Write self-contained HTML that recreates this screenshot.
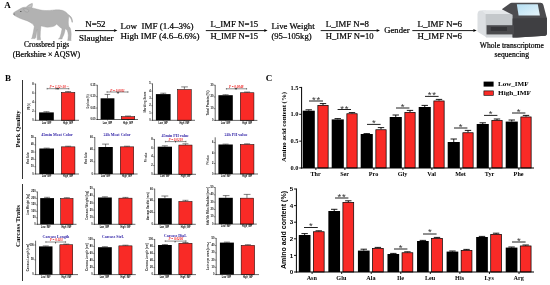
<!DOCTYPE html>
<html><head><meta charset="utf-8"><title>Figure</title>
<style>
html,body{margin:0;padding:0;background:#fff;}
svg{display:block;}
.l{stroke:#000;fill:none}
text{white-space:pre;text-anchor:middle;fill:#000}
.s{font-family:"Liberation Serif",serif;stroke:#000;stroke-width:0.22px}
.sb{font-family:"Liberation Serif",serif;font-weight:bold}
.a{font-family:"Liberation Sans",sans-serif}
.ab{font-family:"Liberation Sans",sans-serif;font-weight:bold}
.i{font-style:italic}
.c{dominant-baseline:central}
</style></head>
<body>
<svg width="550" height="285" viewBox="0 0 550 285">
<rect width="550" height="285" fill="#fff"/>
<text class="sb c" x="7.60" y="5.20" font-size="9">A</text>
<g id="pig">
<path fill="#b2b2b2" stroke="#a0a0a0" stroke-width="0.4" d="M13.4 13 L14.2 12.2 C17 10.6 20 8.8 22.5 7.6 C23.8 7.2 25 7.1 26 7.2 C27.8 5.6 30 4 32.3 3.3 C32.7 4.8 32.4 6.4 31.7 7.7 C34 8.3 35.4 8.7 36.5 9 C38.5 9.5 40.5 10 42.1 10.3 C45 10.6 47.5 10.6 49.8 10.4 C52 10.2 53.5 10 54.7 9.9 C57 9.8 60 9.9 62.1 10.3 C64.8 11 66.8 12.6 68.2 14.6 C70 15.6 71.4 17 71.9 18.6 C72.5 20 72.7 21.2 72.5 22.2 L71.9 22.2 C71.8 20.6 71.3 19.2 70.5 18 C70 17.2 69.4 16.6 68.8 16.3 C68.6 18 68.3 20 68.3 22.1 C68.3 23.8 68.5 25.2 68.8 26.5 C69.4 27 69.9 27.4 70.2 28 C70.8 30 71.2 32 71.2 33.9 L70.9 39.8 L71.2 40.5 L67.7 40.5 L68 38.5 L68.3 35.3 C68.2 33.5 67.8 31.8 67.2 30.2 L65.3 28.5 C65 31 64.4 33.4 63.6 35.3 L62.2 38 L62.1 39 L58.4 39 L59.9 37.6 C60.8 34.8 61.6 31.6 62.1 28.7 C60.4 27.4 58 25.8 56.6 24 C55.8 25 55.2 25.5 54.7 25.8 C52.5 26.8 50 27.2 47.4 27.2 C45 27 42.5 26.4 40.9 25.8 L40.9 26.5 C40.4 30 40.2 33.5 40.2 36.8 L40.6 39.8 L37.2 39.8 L37.2 39 C37.3 36.6 37.3 34 37.2 31.7 L37.2 29.5 C36.6 32.4 36.2 35 35.8 37.6 L35 38.6 L31.4 38.6 L32.1 37.6 C33 34 33.8 30 34.3 26.5 C33.8 25.4 33 24.4 32.1 23.6 C30.5 22.4 29 21.6 27.4 20.9 C25 20.1 22.6 19.3 20.4 18.5 C18.6 17.7 17 16.9 15.5 16.1 C14.4 15.6 13.6 15 13.3 14.2 Z"/>
<path fill="#b8b8b8" stroke="#8c8c8c" stroke-width="0.4" d="M23.6 8.7 C25.4 8.3 27.8 9 28.8 10.4 C28.8 11.4 28.2 12.2 27.1 12.2 C25.8 11.9 24.8 11.4 24.3 10.8 C23.9 10.1 23.7 9.4 23.6 8.7 Z"/>
<path fill="#c4c4c4" d="M27.6 6.8 C28.8 5.8 30.4 4.8 31.8 4.2 C31.9 5.2 31.6 6.4 31.1 7.3 Z"/>
<ellipse cx="20.8" cy="11.5" rx="0.8" ry="0.55" fill="#4a4a4a"/>
<ellipse cx="14.3" cy="14.2" rx="0.7" ry="0.9" fill="#8e8e8e"/>
</g>
<text class="s c" x="46.60" y="44.60" font-size="7.7" textLength="45" lengthAdjust="spacingAndGlyphs">Crossbred pigs</text>
<text class="s c" x="46.40" y="54.00" font-size="7.7" textLength="67.4" lengthAdjust="spacingAndGlyphs">(Berkshire × AQSW)</text>
<path class="l" d="M75.00 30.60L114.90 30.60" stroke-width="0.9"/>
<path d="M117.4 30.6 L113.80000000000001 29.1 L114.60000000000001 30.6 L113.80000000000001 32.1 Z" fill="#000"/>
<text class="s c" x="95.40" y="24.30" font-size="9" textLength="20.4" lengthAdjust="spacingAndGlyphs">N=52</text>
<text class="s c" x="96.30" y="38.30" font-size="9" textLength="34.5" lengthAdjust="spacingAndGlyphs">Slaughter</text>
<text class="s c" x="120.60" y="25.60" font-size="9" style="text-anchor:start" textLength="73" lengthAdjust="spacingAndGlyphs">Low  IMF (1.4–3%)</text>
<text class="s c" x="120.60" y="36.20" font-size="9" style="text-anchor:start" textLength="79" lengthAdjust="spacingAndGlyphs">High IMF (4.6–6.6%)</text>
<path class="l" d="M205.80 30.60L265.10 30.60" stroke-width="0.9"/>
<path d="M267.6 30.6 L264.0 29.1 L264.8 30.6 L264.0 32.1 Z" fill="#000"/>
<text class="s c" x="210.40" y="24.40" font-size="9" style="text-anchor:start" textLength="47.8" lengthAdjust="spacingAndGlyphs">L_IMF N=15</text>
<text class="s c" x="210.40" y="36.30" font-size="9" style="text-anchor:start" textLength="47.8" lengthAdjust="spacingAndGlyphs">H_IMF N=15</text>
<text class="s c" x="271.40" y="25.60" font-size="9" style="text-anchor:start" textLength="43.3" lengthAdjust="spacingAndGlyphs">Live Weight</text>
<text class="s c" x="271.40" y="36.20" font-size="9" style="text-anchor:start" textLength="40.2" lengthAdjust="spacingAndGlyphs">(95–105kg)</text>
<path class="l" d="M320.70 30.60L377.50 30.60" stroke-width="0.9"/>
<path d="M380 30.6 L376.4 29.1 L377.2 30.6 L376.4 32.1 Z" fill="#000"/>
<text class="s c" x="325.80" y="24.40" font-size="9" style="text-anchor:start" textLength="43.2" lengthAdjust="spacingAndGlyphs">L_IMF N=8</text>
<text class="s c" x="325.80" y="36.30" font-size="9" style="text-anchor:start" textLength="47.8" lengthAdjust="spacingAndGlyphs">H_IMF N=10</text>
<text class="s c" x="384.30" y="30.40" font-size="9" style="text-anchor:start" textLength="25.4" lengthAdjust="spacingAndGlyphs">Gender</text>
<path class="l" d="M412.30 30.60L474.20 30.60" stroke-width="0.9"/>
<path d="M476.7 30.6 L473.09999999999997 29.1 L473.9 30.6 L473.09999999999997 32.1 Z" fill="#000"/>
<text class="s c" x="417.60" y="24.40" font-size="9" style="text-anchor:start" textLength="44.4" lengthAdjust="spacingAndGlyphs">L_IMF N=6</text>
<text class="s c" x="417.60" y="36.30" font-size="9" style="text-anchor:start" textLength="44.4" lengthAdjust="spacingAndGlyphs">H_IMF N=6</text>
<g id="seq">
<defs><linearGradient id="scr" x1="0" y1="0" x2="1" y2="1"><stop offset="0" stop-color="#b4def2"/><stop offset="1" stop-color="#e6f4fa"/></linearGradient></defs>
<path d="M477.5 14.2 Q477.6 10.6 480.6 10.4 L486 10.4 L486 36.9 L477.5 31.8 Z" fill="#dcdfe2"/>
<path d="M480 10.2 L504.4 10.2 L513 14.2 L485.6 14.2 L482 10.4 Z" fill="#e5e8ea"/>
<path d="M485.6 14 L513.5 14 L513.5 37.3 L485.9 37.3 Z" fill="#c4c8cb"/>
<path d="M485.9 34.4 L513.5 34.4 L513.5 37.3 L485.9 37.3 Z" fill="#d3d6d9"/>
<path d="M501.8 9.3 L509.8 3.4 Q510.6 2.8 511.8 2.8 L540.6 2.8 Q542.8 2.8 543.4 5 L546.6 17.2 Q546.9 18.4 546.9 19.8 L546.9 33.6 Q546.9 35.5 545.2 35.8 L517 37.6 L512.6 37.6 L512.6 14.8 Z" fill="#4c4c4f"/>
<path d="M512.6 18.4 L546.9 17.8 L546.9 33.6 Q546.9 35.5 545.2 35.8 L517 37.6 L512.6 37.6 Z" fill="#3f3f42"/>
<path d="M516.8 4.2 L537.8 4.2 L539.9 15.4 L518.6 15.4 Z" fill="url(#scr)"/>
<path d="M486.6 25.2 L514 25.2 L514 34.4 L486.6 34.4 Z" fill="#4a4a4d"/>
<path d="M490.8 27 L507 27 L507 30.9 L490.8 30.9 Z" fill="#353538"/>
</g>
<text class="s c" x="511.80" y="45.80" font-size="7.7" textLength="64" lengthAdjust="spacingAndGlyphs">Whole transcriptome</text>
<text class="s c" x="511.80" y="54.20" font-size="7.7" textLength="34.5" lengthAdjust="spacingAndGlyphs">sequencing</text>
<text class="sb c" x="8.00" y="78.40" font-size="9">B</text>
<path class="l" d="M22.50 80.00L22.50 179.00" stroke-width="0.8"/>
<path class="l" d="M22.50 184.00L22.50 281.00" stroke-width="0.8"/>
<text class="sb c" x="17.60" y="129.00" font-size="6.7" textLength="37" lengthAdjust="spacingAndGlyphs" transform="rotate(-90 17.6 129)">Pork Quality</text>
<text class="sb c" x="17.60" y="226.00" font-size="6.7" textLength="42" lengthAdjust="spacingAndGlyphs" transform="rotate(-90 17.6 226)">Carcass Traits</text>
<path class="l" d="M46.45 112.40L46.45 111.70" stroke-width="0.5"/>
<path class="l" d="M43.45 111.70L49.45 111.70" stroke-width="0.5"/>
<rect x="39.10" y="112.40" width="14.70" height="7.90" fill="#000"/>
<path class="l" d="M68.10 92.20L68.10 91.50" stroke-width="0.5"/>
<path class="l" d="M65.10 91.50L71.10 91.50" stroke-width="0.5"/>
<rect x="61.35" y="92.45" width="13.50" height="27.85" fill="#f92a26" stroke="#000" stroke-width="0.5"/>
<path class="l" d="M35.60 83.70L35.60 120.60" stroke-width="0.6"/>
<path class="l" d="M35.30 120.30L79.00 120.30" stroke-width="0.6"/>
<path class="l" d="M34.30 84.00L35.60 84.00" stroke-width="0.45"/>
<text class="ab c" x="33.80" y="84.00" font-size="2.6" style="text-anchor:end">8</text>
<path class="l" d="M34.30 93.08L35.60 93.08" stroke-width="0.45"/>
<text class="ab c" x="33.80" y="93.08" font-size="2.6" style="text-anchor:end">6</text>
<path class="l" d="M34.30 102.15L35.60 102.15" stroke-width="0.45"/>
<text class="ab c" x="33.80" y="102.15" font-size="2.6" style="text-anchor:end">4</text>
<path class="l" d="M34.30 111.22L35.60 111.22" stroke-width="0.45"/>
<text class="ab c" x="33.80" y="111.22" font-size="2.6" style="text-anchor:end">2</text>
<path class="l" d="M34.30 120.30L35.60 120.30" stroke-width="0.45"/>
<text class="ab c" x="33.80" y="120.30" font-size="2.6" style="text-anchor:end">0</text>
<path class="l" d="M46.45 120.30L46.45 121.30" stroke-width="0.45"/>
<path class="l" d="M68.10 120.30L68.10 121.30" stroke-width="0.45"/>
<text class="ab c" x="46.60" y="123.60" font-size="2.6" textLength="9.4" lengthAdjust="spacingAndGlyphs">Low_IMF</text>
<text class="ab c" x="68.00" y="123.60" font-size="2.6" textLength="10" lengthAdjust="spacingAndGlyphs">High_IMF</text>
<text class="ab c" x="29.20" y="106.60" font-size="2.6" style="fill:#2a2a2a" textLength="6.5" lengthAdjust="spacingAndGlyphs" transform="rotate(-90 29.2 106.6)">IMF (%)</text>
<text class="sb i c" x="59.00" y="86.70" font-size="3.3" style="fill:#ee2222">P = 1.12×10<tspan font-size='2' dy='-1'>-12</tspan></text>
<path class="l" d="M47.10 88.70L68.90 88.70" stroke-width="0.45"/>
<path class="l" d="M47.10 87.90L47.10 89.50" stroke-width="0.45"/>
<path class="l" d="M68.90 87.90L68.90 89.50" stroke-width="0.45"/>
<text class="ab c" x="57.30" y="90.10" font-size="3.0">***</text>
<path class="l" d="M107.50 98.30L107.50 94.40" stroke-width="0.5"/>
<path class="l" d="M104.60 94.40L110.20 94.40" stroke-width="0.5"/>
<rect x="100.60" y="98.30" width="13.80" height="21.20" fill="#000"/>
<path class="l" d="M128.00 116.40L128.00 116.00" stroke-width="0.5"/>
<path class="l" d="M125.00 116.00L131.00 116.00" stroke-width="0.5"/>
<rect x="121.25" y="116.65" width="13.50" height="2.85" fill="#f92a26" stroke="#000" stroke-width="0.5"/>
<path class="l" d="M97.30 84.90L97.30 119.80" stroke-width="0.6"/>
<path class="l" d="M97.00 119.50L138.00 119.50" stroke-width="0.6"/>
<path class="l" d="M96.00 85.20L97.30 85.20" stroke-width="0.45"/>
<text class="ab c" x="95.50" y="85.20" font-size="2.6" style="text-anchor:end">0.15</text>
<path class="l" d="M96.00 96.63L97.30 96.63" stroke-width="0.45"/>
<text class="ab c" x="95.50" y="96.63" font-size="2.6" style="text-anchor:end">0.10</text>
<path class="l" d="M96.00 108.07L97.30 108.07" stroke-width="0.45"/>
<text class="ab c" x="95.50" y="108.07" font-size="2.6" style="text-anchor:end">0.05</text>
<path class="l" d="M96.00 119.50L97.30 119.50" stroke-width="0.45"/>
<text class="ab c" x="95.50" y="119.50" font-size="2.6" style="text-anchor:end">0.00</text>
<path class="l" d="M107.50 119.50L107.50 120.50" stroke-width="0.45"/>
<path class="l" d="M128.00 119.50L128.00 120.50" stroke-width="0.45"/>
<text class="ab c" x="107.40" y="123.00" font-size="2.6" textLength="9.4" lengthAdjust="spacingAndGlyphs">Low_IMF</text>
<text class="ab c" x="128.00" y="123.00" font-size="2.6" textLength="10" lengthAdjust="spacingAndGlyphs">High_IMF</text>
<text class="ab c" x="88.60" y="101.60" font-size="2.6" style="fill:#2a2a2a" textLength="14" lengthAdjust="spacingAndGlyphs" transform="rotate(-90 88.6 101.6)">Drip loss (%)</text>
<text class="sb i c" x="117.50" y="90.50" font-size="3.3" style="fill:#ee2222">P = 0.0011</text>
<path class="l" d="M107.00 92.00L128.00 92.00" stroke-width="0.45"/>
<path class="l" d="M107.00 91.20L107.00 92.80" stroke-width="0.45"/>
<path class="l" d="M128.00 91.20L128.00 92.80" stroke-width="0.45"/>
<text class="ab c" x="118.00" y="93.90" font-size="3.0">**</text>
<path class="l" d="M163.25 94.10L163.25 93.20" stroke-width="0.5"/>
<path class="l" d="M160.25 93.20L166.25 93.20" stroke-width="0.5"/>
<rect x="155.90" y="94.10" width="14.70" height="26.20" fill="#000"/>
<path class="l" d="M184.40 89.30L184.40 86.90" stroke-width="0.5"/>
<path class="l" d="M181.20 86.90L187.90 86.90" stroke-width="0.5"/>
<rect x="177.55" y="89.55" width="13.70" height="30.75" fill="#f92a26" stroke="#000" stroke-width="0.5"/>
<path class="l" d="M152.50 83.50L152.50 120.60" stroke-width="0.6"/>
<path class="l" d="M152.20 120.30L195.00 120.30" stroke-width="0.6"/>
<path class="l" d="M151.20 83.80L152.50 83.80" stroke-width="0.45"/>
<text class="ab c" x="150.70" y="83.80" font-size="2.6" style="text-anchor:end">5</text>
<path class="l" d="M151.20 91.10L152.50 91.10" stroke-width="0.45"/>
<text class="ab c" x="150.70" y="91.10" font-size="2.6" style="text-anchor:end">4</text>
<path class="l" d="M151.20 98.40L152.50 98.40" stroke-width="0.45"/>
<text class="ab c" x="150.70" y="98.40" font-size="2.6" style="text-anchor:end">3</text>
<path class="l" d="M151.20 105.70L152.50 105.70" stroke-width="0.45"/>
<text class="ab c" x="150.70" y="105.70" font-size="2.6" style="text-anchor:end">2</text>
<path class="l" d="M151.20 113.00L152.50 113.00" stroke-width="0.45"/>
<text class="ab c" x="150.70" y="113.00" font-size="2.6" style="text-anchor:end">1</text>
<path class="l" d="M151.20 120.30L152.50 120.30" stroke-width="0.45"/>
<text class="ab c" x="150.70" y="120.30" font-size="2.6" style="text-anchor:end">0</text>
<path class="l" d="M163.25 120.30L163.25 121.30" stroke-width="0.45"/>
<path class="l" d="M184.40 120.30L184.40 121.30" stroke-width="0.45"/>
<text class="ab c" x="163.20" y="123.60" font-size="2.6" textLength="9.4" lengthAdjust="spacingAndGlyphs">Low_IMF</text>
<text class="ab c" x="184.40" y="123.60" font-size="2.6" textLength="10" lengthAdjust="spacingAndGlyphs">High_IMF</text>
<text class="ab c" x="145.90" y="102.00" font-size="2.6" style="fill:#2a2a2a" textLength="21" lengthAdjust="spacingAndGlyphs" transform="rotate(-90 145.9 102)">Marbling Score</text>
<path class="l" d="M225.60 95.20L225.60 94.70" stroke-width="0.5"/>
<path class="l" d="M222.60 94.70L228.60 94.70" stroke-width="0.5"/>
<rect x="218.40" y="95.20" width="14.40" height="25.20" fill="#000"/>
<path class="l" d="M247.10 92.50L247.10 92.00" stroke-width="0.5"/>
<path class="l" d="M244.10 92.00L250.10 92.00" stroke-width="0.5"/>
<rect x="240.25" y="92.75" width="13.70" height="27.65" fill="#f92a26" stroke="#000" stroke-width="0.5"/>
<path class="l" d="M215.20 84.90L215.20 120.70" stroke-width="0.6"/>
<path class="l" d="M214.90 120.40L257.40 120.40" stroke-width="0.6"/>
<path class="l" d="M213.90 85.20L215.20 85.20" stroke-width="0.45"/>
<text class="ab c" x="213.40" y="85.20" font-size="2.6" style="text-anchor:end">30</text>
<path class="l" d="M213.90 96.93L215.20 96.93" stroke-width="0.45"/>
<text class="ab c" x="213.40" y="96.93" font-size="2.6" style="text-anchor:end">20</text>
<path class="l" d="M213.90 108.67L215.20 108.67" stroke-width="0.45"/>
<text class="ab c" x="213.40" y="108.67" font-size="2.6" style="text-anchor:end">10</text>
<path class="l" d="M213.90 120.40L215.20 120.40" stroke-width="0.45"/>
<text class="ab c" x="213.40" y="120.40" font-size="2.6" style="text-anchor:end">0</text>
<path class="l" d="M225.60 120.40L225.60 121.40" stroke-width="0.45"/>
<path class="l" d="M247.10 120.40L247.10 121.40" stroke-width="0.45"/>
<text class="ab c" x="225.60" y="123.70" font-size="2.6" textLength="9.4" lengthAdjust="spacingAndGlyphs">Low_IMF</text>
<text class="ab c" x="247.20" y="123.70" font-size="2.6" textLength="10" lengthAdjust="spacingAndGlyphs">High_IMF</text>
<text class="ab c" x="208.10" y="103.00" font-size="2.6" style="fill:#2a2a2a" textLength="25" lengthAdjust="spacingAndGlyphs" transform="rotate(-90 208.1 103)">Total Protein (%)</text>
<text class="sb i c" x="236.20" y="86.80" font-size="3.3" style="fill:#ee2222">P = 0.0048</text>
<path class="l" d="M226.40 88.80L246.60 88.80" stroke-width="0.45"/>
<path class="l" d="M226.40 88.00L226.40 89.60" stroke-width="0.45"/>
<path class="l" d="M246.60 88.00L246.60 89.60" stroke-width="0.45"/>
<text class="ab c" x="236.00" y="90.40" font-size="3.0">**</text>
<path class="l" d="M46.65 148.50L46.65 148.10" stroke-width="0.5"/>
<path class="l" d="M43.65 148.10L49.65 148.10" stroke-width="0.5"/>
<rect x="39.30" y="148.50" width="14.70" height="25.50" fill="#000"/>
<path class="l" d="M68.15 146.60L68.15 146.20" stroke-width="0.5"/>
<path class="l" d="M65.15 146.20L71.15 146.20" stroke-width="0.5"/>
<rect x="61.35" y="146.85" width="13.60" height="27.15" fill="#f92a26" stroke="#000" stroke-width="0.5"/>
<path class="l" d="M35.60 137.20L35.60 174.30" stroke-width="0.6"/>
<path class="l" d="M35.30 174.00L79.00 174.00" stroke-width="0.6"/>
<path class="l" d="M34.30 137.50L35.60 137.50" stroke-width="0.45"/>
<text class="ab c" x="33.80" y="137.50" font-size="2.6" style="text-anchor:end">50</text>
<path class="l" d="M34.30 144.80L35.60 144.80" stroke-width="0.45"/>
<text class="ab c" x="33.80" y="144.80" font-size="2.6" style="text-anchor:end">40</text>
<path class="l" d="M34.30 152.10L35.60 152.10" stroke-width="0.45"/>
<text class="ab c" x="33.80" y="152.10" font-size="2.6" style="text-anchor:end">30</text>
<path class="l" d="M34.30 159.40L35.60 159.40" stroke-width="0.45"/>
<text class="ab c" x="33.80" y="159.40" font-size="2.6" style="text-anchor:end">20</text>
<path class="l" d="M34.30 166.70L35.60 166.70" stroke-width="0.45"/>
<text class="ab c" x="33.80" y="166.70" font-size="2.6" style="text-anchor:end">10</text>
<path class="l" d="M34.30 174.00L35.60 174.00" stroke-width="0.45"/>
<text class="ab c" x="33.80" y="174.00" font-size="2.6" style="text-anchor:end">0</text>
<path class="l" d="M46.65 174.00L46.65 175.00" stroke-width="0.45"/>
<path class="l" d="M68.15 174.00L68.15 175.00" stroke-width="0.45"/>
<text class="ab c" x="46.60" y="176.60" font-size="2.6" textLength="9.4" lengthAdjust="spacingAndGlyphs">Low_IMF</text>
<text class="ab c" x="68.10" y="176.60" font-size="2.6" textLength="10" lengthAdjust="spacingAndGlyphs">High_IMF</text>
<text class="ab c" x="28.70" y="158.00" font-size="2.6" style="fill:#2a2a2a" textLength="12" lengthAdjust="spacingAndGlyphs" transform="rotate(-90 28.7 158)">Meat Color</text>
<text class="sb c" x="57.00" y="134.00" font-size="4.0" style="fill:#3426a8">45min Meat Color</text>
<path class="l" d="M105.60 147.00L105.60 144.10" stroke-width="0.5"/>
<path class="l" d="M102.10 144.10L109.00 144.10" stroke-width="0.5"/>
<rect x="98.40" y="147.00" width="14.40" height="27.00" fill="#000"/>
<path class="l" d="M127.00 146.60L127.00 146.20" stroke-width="0.5"/>
<path class="l" d="M124.00 146.20L130.00 146.20" stroke-width="0.5"/>
<rect x="120.25" y="146.85" width="13.50" height="27.15" fill="#f92a26" stroke="#000" stroke-width="0.5"/>
<path class="l" d="M94.80 137.20L94.80 174.30" stroke-width="0.6"/>
<path class="l" d="M94.50 174.00L137.60 174.00" stroke-width="0.6"/>
<path class="l" d="M93.50 137.50L94.80 137.50" stroke-width="0.45"/>
<text class="ab c" x="93.00" y="137.50" font-size="2.6" style="text-anchor:end">60</text>
<path class="l" d="M93.50 149.67L94.80 149.67" stroke-width="0.45"/>
<text class="ab c" x="93.00" y="149.67" font-size="2.6" style="text-anchor:end">40</text>
<path class="l" d="M93.50 161.83L94.80 161.83" stroke-width="0.45"/>
<text class="ab c" x="93.00" y="161.83" font-size="2.6" style="text-anchor:end">20</text>
<path class="l" d="M93.50 174.00L94.80 174.00" stroke-width="0.45"/>
<text class="ab c" x="93.00" y="174.00" font-size="2.6" style="text-anchor:end">0</text>
<path class="l" d="M105.60 174.00L105.60 175.00" stroke-width="0.45"/>
<path class="l" d="M127.00 174.00L127.00 175.00" stroke-width="0.45"/>
<text class="ab c" x="105.60" y="176.60" font-size="2.6" textLength="9.4" lengthAdjust="spacingAndGlyphs">Low_IMF</text>
<text class="ab c" x="127.00" y="176.60" font-size="2.6" textLength="10" lengthAdjust="spacingAndGlyphs">High_IMF</text>
<text class="ab c" x="86.90" y="158.00" font-size="2.6" style="fill:#2a2a2a" textLength="12" lengthAdjust="spacingAndGlyphs" transform="rotate(-90 86.9 158)">Meat Color</text>
<text class="sb c" x="117.00" y="134.00" font-size="4.0" style="fill:#3426a8">24h Meat Color</text>
<path class="l" d="M164.85 146.70L164.85 145.80" stroke-width="0.5"/>
<path class="l" d="M161.85 145.80L167.85 145.80" stroke-width="0.5"/>
<rect x="157.70" y="146.70" width="14.30" height="27.60" fill="#000"/>
<path class="l" d="M185.45 144.80L185.45 143.80" stroke-width="0.5"/>
<path class="l" d="M182.45 143.80L188.45 143.80" stroke-width="0.5"/>
<rect x="178.85" y="145.05" width="13.20" height="29.25" fill="#f92a26" stroke="#000" stroke-width="0.5"/>
<path class="l" d="M154.40 139.00L154.40 174.60" stroke-width="0.6"/>
<path class="l" d="M154.10 174.30L196.00 174.30" stroke-width="0.6"/>
<path class="l" d="M153.10 139.30L154.40 139.30" stroke-width="0.45"/>
<text class="ab c" x="152.60" y="139.30" font-size="2.6" style="text-anchor:end">8</text>
<path class="l" d="M153.10 148.05L154.40 148.05" stroke-width="0.45"/>
<text class="ab c" x="152.60" y="148.05" font-size="2.6" style="text-anchor:end">6</text>
<path class="l" d="M153.10 156.80L154.40 156.80" stroke-width="0.45"/>
<text class="ab c" x="152.60" y="156.80" font-size="2.6" style="text-anchor:end">4</text>
<path class="l" d="M153.10 165.55L154.40 165.55" stroke-width="0.45"/>
<text class="ab c" x="152.60" y="165.55" font-size="2.6" style="text-anchor:end">2</text>
<path class="l" d="M153.10 174.30L154.40 174.30" stroke-width="0.45"/>
<text class="ab c" x="152.60" y="174.30" font-size="2.6" style="text-anchor:end">0</text>
<path class="l" d="M164.85 174.30L164.85 175.30" stroke-width="0.45"/>
<path class="l" d="M185.45 174.30L185.45 175.30" stroke-width="0.45"/>
<text class="ab c" x="165.00" y="176.60" font-size="2.6" textLength="9.4" lengthAdjust="spacingAndGlyphs">Low_IMF</text>
<text class="ab c" x="185.70" y="176.60" font-size="2.6" textLength="10" lengthAdjust="spacingAndGlyphs">High_IMF</text>
<text class="ab c" x="146.90" y="157.50" font-size="2.6" style="fill:#2a2a2a" textLength="9.5" lengthAdjust="spacingAndGlyphs" transform="rotate(-90 146.9 157.5)">PH value</text>
<text class="sb c" x="175.20" y="135.50" font-size="4.0" style="fill:#3426a8">45min PH value</text>
<text class="sb i c" x="175.70" y="140.30" font-size="3.3" style="fill:#ee2222">P = 0.0219</text>
<path class="l" d="M165.40 141.60L186.00 141.60" stroke-width="0.45"/>
<path class="l" d="M165.40 140.80L165.40 142.40" stroke-width="0.45"/>
<path class="l" d="M186.00 140.80L186.00 142.40" stroke-width="0.45"/>
<text class="ab c" x="175.50" y="143.20" font-size="3.0">*</text>
<path class="l" d="M225.60 144.50L225.60 144.10" stroke-width="0.5"/>
<path class="l" d="M222.60 144.10L228.60 144.10" stroke-width="0.5"/>
<rect x="218.40" y="144.50" width="14.40" height="29.50" fill="#000"/>
<path class="l" d="M247.10 144.20L247.10 143.80" stroke-width="0.5"/>
<path class="l" d="M244.10 143.80L250.10 143.80" stroke-width="0.5"/>
<rect x="240.25" y="144.45" width="13.70" height="29.55" fill="#f92a26" stroke="#000" stroke-width="0.5"/>
<path class="l" d="M215.20 137.30L215.20 174.30" stroke-width="0.6"/>
<path class="l" d="M214.90 174.00L258.00 174.00" stroke-width="0.6"/>
<path class="l" d="M213.90 142.60L215.20 142.60" stroke-width="0.45"/>
<text class="ab c" x="213.40" y="142.60" font-size="2.6" style="text-anchor:end">6</text>
<path class="l" d="M213.90 153.00L215.20 153.00" stroke-width="0.45"/>
<text class="ab c" x="213.40" y="153.00" font-size="2.6" style="text-anchor:end">4</text>
<path class="l" d="M213.90 163.50L215.20 163.50" stroke-width="0.45"/>
<text class="ab c" x="213.40" y="163.50" font-size="2.6" style="text-anchor:end">2</text>
<path class="l" d="M213.90 174.00L215.20 174.00" stroke-width="0.45"/>
<text class="ab c" x="213.40" y="174.00" font-size="2.6" style="text-anchor:end">0</text>
<path class="l" d="M225.60 174.00L225.60 175.00" stroke-width="0.45"/>
<path class="l" d="M247.10 174.00L247.10 175.00" stroke-width="0.45"/>
<text class="ab c" x="225.80" y="176.60" font-size="2.6" textLength="9.4" lengthAdjust="spacingAndGlyphs">Low_IMF</text>
<text class="ab c" x="247.20" y="176.60" font-size="2.6" textLength="10" lengthAdjust="spacingAndGlyphs">High_IMF</text>
<text class="ab c" x="208.10" y="160.00" font-size="2.6" style="fill:#2a2a2a" textLength="9.5" lengthAdjust="spacingAndGlyphs" transform="rotate(-90 208.1 160)">PH value</text>
<text class="sb c" x="236.00" y="134.00" font-size="4.0" style="fill:#3426a8">24h PH value</text>
<path class="l" d="M47.10 198.10L47.10 197.30" stroke-width="0.5"/>
<path class="l" d="M44.10 197.30L50.10 197.30" stroke-width="0.5"/>
<rect x="40.20" y="198.10" width="13.80" height="26.20" fill="#000"/>
<path class="l" d="M66.85 198.20L66.85 197.70" stroke-width="0.5"/>
<path class="l" d="M63.85 197.70L69.85 197.70" stroke-width="0.5"/>
<rect x="60.65" y="198.45" width="12.40" height="25.85" fill="#f92a26" stroke="#000" stroke-width="0.5"/>
<path class="l" d="M37.40 191.60L37.40 224.60" stroke-width="0.6"/>
<path class="l" d="M37.10 224.30L76.50 224.30" stroke-width="0.6"/>
<path class="l" d="M36.10 191.90L37.40 191.90" stroke-width="0.45"/>
<text class="ab c" x="35.60" y="191.90" font-size="2.6" style="text-anchor:end">250</text>
<path class="l" d="M36.10 198.38L37.40 198.38" stroke-width="0.45"/>
<text class="ab c" x="35.60" y="198.38" font-size="2.6" style="text-anchor:end">200</text>
<path class="l" d="M36.10 204.86L37.40 204.86" stroke-width="0.45"/>
<text class="ab c" x="35.60" y="204.86" font-size="2.6" style="text-anchor:end">150</text>
<path class="l" d="M36.10 211.34L37.40 211.34" stroke-width="0.45"/>
<text class="ab c" x="35.60" y="211.34" font-size="2.6" style="text-anchor:end">100</text>
<path class="l" d="M36.10 217.82L37.40 217.82" stroke-width="0.45"/>
<text class="ab c" x="35.60" y="217.82" font-size="2.6" style="text-anchor:end">50</text>
<path class="l" d="M36.10 224.30L37.40 224.30" stroke-width="0.45"/>
<text class="ab c" x="35.60" y="224.30" font-size="2.6" style="text-anchor:end">0</text>
<path class="l" d="M47.10 224.30L47.10 225.30" stroke-width="0.45"/>
<path class="l" d="M66.85 224.30L66.85 225.30" stroke-width="0.45"/>
<text class="ab c" x="45.80" y="227.00" font-size="2.6" textLength="9.4" lengthAdjust="spacingAndGlyphs">Low_IMF</text>
<text class="ab c" x="66.40" y="227.00" font-size="2.6" textLength="10" lengthAdjust="spacingAndGlyphs">High_IMF</text>
<text class="ab c" x="28.40" y="204.60" font-size="2.6" style="fill:#2a2a2a" textLength="21" lengthAdjust="spacingAndGlyphs" transform="rotate(-90 28.4 204.6)">Live Weight (kg)</text>
<path class="l" d="M104.90 197.50L104.90 196.80" stroke-width="0.5"/>
<path class="l" d="M101.90 196.80L107.90 196.80" stroke-width="0.5"/>
<rect x="98.00" y="197.50" width="13.80" height="26.80" fill="#000"/>
<path class="l" d="M125.45 197.90L125.45 197.40" stroke-width="0.5"/>
<path class="l" d="M122.45 197.40L128.45 197.40" stroke-width="0.5"/>
<rect x="118.85" y="198.15" width="13.20" height="26.15" fill="#f92a26" stroke="#000" stroke-width="0.5"/>
<path class="l" d="M94.40 188.60L94.40 224.60" stroke-width="0.6"/>
<path class="l" d="M94.10 224.30L135.40 224.30" stroke-width="0.6"/>
<path class="l" d="M93.10 188.90L94.40 188.90" stroke-width="0.45"/>
<text class="ab c" x="92.60" y="188.90" font-size="2.6" style="text-anchor:end">50</text>
<path class="l" d="M93.10 195.98L94.40 195.98" stroke-width="0.45"/>
<text class="ab c" x="92.60" y="195.98" font-size="2.6" style="text-anchor:end">40</text>
<path class="l" d="M93.10 203.06L94.40 203.06" stroke-width="0.45"/>
<text class="ab c" x="92.60" y="203.06" font-size="2.6" style="text-anchor:end">30</text>
<path class="l" d="M93.10 210.14L94.40 210.14" stroke-width="0.45"/>
<text class="ab c" x="92.60" y="210.14" font-size="2.6" style="text-anchor:end">20</text>
<path class="l" d="M93.10 217.22L94.40 217.22" stroke-width="0.45"/>
<text class="ab c" x="92.60" y="217.22" font-size="2.6" style="text-anchor:end">10</text>
<path class="l" d="M93.10 224.30L94.40 224.30" stroke-width="0.45"/>
<text class="ab c" x="92.60" y="224.30" font-size="2.6" style="text-anchor:end">0</text>
<path class="l" d="M104.90 224.30L104.90 225.30" stroke-width="0.45"/>
<path class="l" d="M125.45 224.30L125.45 225.30" stroke-width="0.45"/>
<text class="ab c" x="104.40" y="227.00" font-size="2.6" textLength="9.4" lengthAdjust="spacingAndGlyphs">Low_IMF</text>
<text class="ab c" x="125.60" y="227.00" font-size="2.6" textLength="10" lengthAdjust="spacingAndGlyphs">High_IMF</text>
<text class="ab c" x="87.10" y="205.50" font-size="2.6" style="fill:#2a2a2a" textLength="29" lengthAdjust="spacingAndGlyphs" transform="rotate(-90 87.1 205.5)">Carcass Weight (kg)</text>
<path class="l" d="M164.90 198.20L164.90 196.00" stroke-width="0.5"/>
<path class="l" d="M161.40 196.00L168.30 196.00" stroke-width="0.5"/>
<rect x="158.00" y="198.20" width="13.80" height="26.10" fill="#000"/>
<path class="l" d="M185.45 201.20L185.45 200.30" stroke-width="0.5"/>
<path class="l" d="M182.45 200.30L188.45 200.30" stroke-width="0.5"/>
<rect x="178.85" y="201.45" width="13.20" height="22.85" fill="#f92a26" stroke="#000" stroke-width="0.5"/>
<path class="l" d="M154.70 188.70L154.70 224.60" stroke-width="0.6"/>
<path class="l" d="M154.40 224.30L195.80 224.30" stroke-width="0.6"/>
<path class="l" d="M153.40 189.00L154.70 189.00" stroke-width="0.45"/>
<text class="ab c" x="152.90" y="189.00" font-size="2.6" style="text-anchor:end">60</text>
<path class="l" d="M153.40 200.77L154.70 200.77" stroke-width="0.45"/>
<text class="ab c" x="152.90" y="200.77" font-size="2.6" style="text-anchor:end">40</text>
<path class="l" d="M153.40 212.53L154.70 212.53" stroke-width="0.45"/>
<text class="ab c" x="152.90" y="212.53" font-size="2.6" style="text-anchor:end">20</text>
<path class="l" d="M153.40 224.30L154.70 224.30" stroke-width="0.45"/>
<text class="ab c" x="152.90" y="224.30" font-size="2.6" style="text-anchor:end">0</text>
<path class="l" d="M164.90 224.30L164.90 225.30" stroke-width="0.45"/>
<path class="l" d="M185.45 224.30L185.45 225.30" stroke-width="0.45"/>
<text class="ab c" x="164.40" y="227.00" font-size="2.6" textLength="9.4" lengthAdjust="spacingAndGlyphs">Low_IMF</text>
<text class="ab c" x="185.70" y="227.00" font-size="2.6" textLength="10" lengthAdjust="spacingAndGlyphs">High_IMF</text>
<text class="ab c" x="148.10" y="206.20" font-size="2.6" style="fill:#2a2a2a" textLength="27.5" lengthAdjust="spacingAndGlyphs" transform="rotate(-90 148.1 206.2)">Average Backfat (mm)</text>
<path class="l" d="M225.75 197.80L225.75 195.60" stroke-width="0.5"/>
<path class="l" d="M222.80 195.60L229.50 195.60" stroke-width="0.5"/>
<rect x="218.70" y="197.80" width="14.10" height="26.30" fill="#000"/>
<path class="l" d="M246.95 197.90L246.95 194.40" stroke-width="0.5"/>
<path class="l" d="M243.70 194.40L250.50 194.40" stroke-width="0.5"/>
<rect x="240.25" y="198.15" width="13.40" height="25.95" fill="#f92a26" stroke="#000" stroke-width="0.5"/>
<path class="l" d="M215.20 187.20L215.20 224.40" stroke-width="0.6"/>
<path class="l" d="M214.90 224.10L256.80 224.10" stroke-width="0.6"/>
<path class="l" d="M213.90 187.50L215.20 187.50" stroke-width="0.45"/>
<text class="ab c" x="213.40" y="187.50" font-size="2.6" style="text-anchor:end">50</text>
<path class="l" d="M213.90 194.82L215.20 194.82" stroke-width="0.45"/>
<text class="ab c" x="213.40" y="194.82" font-size="2.6" style="text-anchor:end">40</text>
<path class="l" d="M213.90 202.14L215.20 202.14" stroke-width="0.45"/>
<text class="ab c" x="213.40" y="202.14" font-size="2.6" style="text-anchor:end">30</text>
<path class="l" d="M213.90 209.46L215.20 209.46" stroke-width="0.45"/>
<text class="ab c" x="213.40" y="209.46" font-size="2.6" style="text-anchor:end">20</text>
<path class="l" d="M213.90 216.78L215.20 216.78" stroke-width="0.45"/>
<text class="ab c" x="213.40" y="216.78" font-size="2.6" style="text-anchor:end">10</text>
<path class="l" d="M213.90 224.10L215.20 224.10" stroke-width="0.45"/>
<text class="ab c" x="213.40" y="224.10" font-size="2.6" style="text-anchor:end">0</text>
<path class="l" d="M225.75 224.10L225.75 225.10" stroke-width="0.45"/>
<path class="l" d="M246.95 224.10L246.95 225.10" stroke-width="0.45"/>
<text class="ab c" x="225.80" y="226.80" font-size="2.6" textLength="9.4" lengthAdjust="spacingAndGlyphs">Low_IMF</text>
<text class="ab c" x="247.10" y="226.80" font-size="2.6" textLength="10" lengthAdjust="spacingAndGlyphs">High_IMF</text>
<text class="ab c" x="208.10" y="206.00" font-size="2.6" style="fill:#2a2a2a" textLength="38" lengthAdjust="spacingAndGlyphs" transform="rotate(-90 208.1 206)">6th/7th Ribs Backfat (mm)</text>
<path class="l" d="M45.75 246.40L45.75 245.90" stroke-width="0.5"/>
<path class="l" d="M42.75 245.90L48.75 245.90" stroke-width="0.5"/>
<rect x="39.00" y="246.40" width="13.50" height="28.20" fill="#000"/>
<path class="l" d="M66.30 244.50L66.30 244.10" stroke-width="0.5"/>
<path class="l" d="M63.30 244.10L69.30 244.10" stroke-width="0.5"/>
<rect x="59.85" y="244.75" width="12.90" height="29.85" fill="#f92a26" stroke="#000" stroke-width="0.5"/>
<path class="l" d="M35.60 240.70L35.60 274.90" stroke-width="0.6"/>
<path class="l" d="M35.30 274.60L78.00 274.60" stroke-width="0.6"/>
<path class="l" d="M34.30 245.00L35.60 245.00" stroke-width="0.45"/>
<text class="ab c" x="33.80" y="245.00" font-size="2.6" style="text-anchor:end">100</text>
<path class="l" d="M34.30 259.80L35.60 259.80" stroke-width="0.45"/>
<text class="ab c" x="33.80" y="259.80" font-size="2.6" style="text-anchor:end">50</text>
<path class="l" d="M34.30 274.60L35.60 274.60" stroke-width="0.45"/>
<text class="ab c" x="33.80" y="274.60" font-size="2.6" style="text-anchor:end">0</text>
<path class="l" d="M45.75 274.60L45.75 275.60" stroke-width="0.45"/>
<path class="l" d="M66.30 274.60L66.30 275.60" stroke-width="0.45"/>
<text class="ab c" x="45.80" y="277.70" font-size="2.6" textLength="9.4" lengthAdjust="spacingAndGlyphs">Low_IMF</text>
<text class="ab c" x="66.40" y="277.70" font-size="2.6" textLength="10" lengthAdjust="spacingAndGlyphs">High_IMF</text>
<text class="ab c" x="28.30" y="257.60" font-size="2.6" style="fill:#2a2a2a" textLength="27.5" lengthAdjust="spacingAndGlyphs" transform="rotate(-90 28.3 257.6)">Carcass Length (cm)</text>
<text class="sb c" x="55.90" y="236.00" font-size="4.0" style="fill:#3426a8">Carcass Length</text>
<text class="sb i c" x="56.20" y="240.20" font-size="3.3" style="fill:#ee2222">P = 0.023</text>
<path class="l" d="M45.80 242.00L65.60 242.00" stroke-width="0.45"/>
<path class="l" d="M45.80 241.20L45.80 242.80" stroke-width="0.45"/>
<path class="l" d="M65.60 241.20L65.60 242.80" stroke-width="0.45"/>
<text class="ab c" x="55.60" y="243.50" font-size="3.0">*</text>
<path class="l" d="M104.90 247.20L104.90 246.70" stroke-width="0.5"/>
<path class="l" d="M101.90 246.70L107.90 246.70" stroke-width="0.5"/>
<rect x="98.00" y="247.20" width="13.80" height="27.40" fill="#000"/>
<path class="l" d="M125.45 245.60L125.45 245.20" stroke-width="0.5"/>
<path class="l" d="M122.45 245.20L128.45 245.20" stroke-width="0.5"/>
<rect x="118.85" y="245.85" width="13.20" height="28.75" fill="#f92a26" stroke="#000" stroke-width="0.5"/>
<path class="l" d="M94.40 239.00L94.40 274.90" stroke-width="0.6"/>
<path class="l" d="M94.10 274.60L135.80 274.60" stroke-width="0.6"/>
<path class="l" d="M93.10 239.30L94.40 239.30" stroke-width="0.45"/>
<text class="ab c" x="92.60" y="239.30" font-size="2.6" style="text-anchor:end">100</text>
<path class="l" d="M93.10 246.36L94.40 246.36" stroke-width="0.45"/>
<text class="ab c" x="92.60" y="246.36" font-size="2.6" style="text-anchor:end">80</text>
<path class="l" d="M93.10 253.42L94.40 253.42" stroke-width="0.45"/>
<text class="ab c" x="92.60" y="253.42" font-size="2.6" style="text-anchor:end">60</text>
<path class="l" d="M93.10 260.48L94.40 260.48" stroke-width="0.45"/>
<text class="ab c" x="92.60" y="260.48" font-size="2.6" style="text-anchor:end">40</text>
<path class="l" d="M93.10 267.54L94.40 267.54" stroke-width="0.45"/>
<text class="ab c" x="92.60" y="267.54" font-size="2.6" style="text-anchor:end">20</text>
<path class="l" d="M93.10 274.60L94.40 274.60" stroke-width="0.45"/>
<text class="ab c" x="92.60" y="274.60" font-size="2.6" style="text-anchor:end">0</text>
<path class="l" d="M104.90 274.60L104.90 275.60" stroke-width="0.45"/>
<path class="l" d="M125.45 274.60L125.45 275.60" stroke-width="0.45"/>
<text class="ab c" x="104.40" y="277.90" font-size="2.6" textLength="9.4" lengthAdjust="spacingAndGlyphs">Low_IMF</text>
<text class="ab c" x="125.50" y="277.90" font-size="2.6" textLength="10" lengthAdjust="spacingAndGlyphs">High_IMF</text>
<text class="ab c" x="87.10" y="257.00" font-size="2.6" style="fill:#2a2a2a" textLength="27.5" lengthAdjust="spacingAndGlyphs" transform="rotate(-90 87.1 257)">Carcass Length (cm)</text>
<text class="sb c" x="113.00" y="236.00" font-size="4.0" style="fill:#3426a8">Carcass StrL</text>
<path class="l" d="M164.90 245.00L164.90 244.50" stroke-width="0.5"/>
<path class="l" d="M161.90 244.50L167.90 244.50" stroke-width="0.5"/>
<rect x="158.00" y="245.00" width="13.80" height="29.60" fill="#000"/>
<path class="l" d="M185.45 243.00L185.45 242.50" stroke-width="0.5"/>
<path class="l" d="M182.45 242.50L188.45 242.50" stroke-width="0.5"/>
<rect x="178.85" y="243.25" width="13.20" height="31.35" fill="#f92a26" stroke="#000" stroke-width="0.5"/>
<path class="l" d="M154.70 239.10L154.70 274.90" stroke-width="0.6"/>
<path class="l" d="M154.40 274.60L196.00 274.60" stroke-width="0.6"/>
<path class="l" d="M153.40 239.40L154.70 239.40" stroke-width="0.45"/>
<text class="ab c" x="152.90" y="239.40" font-size="2.6" style="text-anchor:end">100</text>
<path class="l" d="M153.40 246.44L154.70 246.44" stroke-width="0.45"/>
<text class="ab c" x="152.90" y="246.44" font-size="2.6" style="text-anchor:end">80</text>
<path class="l" d="M153.40 253.48L154.70 253.48" stroke-width="0.45"/>
<text class="ab c" x="152.90" y="253.48" font-size="2.6" style="text-anchor:end">60</text>
<path class="l" d="M153.40 260.52L154.70 260.52" stroke-width="0.45"/>
<text class="ab c" x="152.90" y="260.52" font-size="2.6" style="text-anchor:end">40</text>
<path class="l" d="M153.40 267.56L154.70 267.56" stroke-width="0.45"/>
<text class="ab c" x="152.90" y="267.56" font-size="2.6" style="text-anchor:end">20</text>
<path class="l" d="M153.40 274.60L154.70 274.60" stroke-width="0.45"/>
<text class="ab c" x="152.90" y="274.60" font-size="2.6" style="text-anchor:end">0</text>
<path class="l" d="M164.90 274.60L164.90 275.60" stroke-width="0.45"/>
<path class="l" d="M185.45 274.60L185.45 275.60" stroke-width="0.45"/>
<text class="ab c" x="164.40" y="277.90" font-size="2.6" textLength="9.4" lengthAdjust="spacingAndGlyphs">Low_IMF</text>
<text class="ab c" x="185.50" y="277.90" font-size="2.6" textLength="10" lengthAdjust="spacingAndGlyphs">High_IMF</text>
<text class="ab c" x="147.80" y="257.00" font-size="2.6" style="fill:#2a2a2a" textLength="27.5" lengthAdjust="spacingAndGlyphs" transform="rotate(-90 147.8 257)">Carcass Length (cm)</text>
<text class="sb c" x="175.40" y="235.80" font-size="4.0" style="fill:#3426a8">Carcass DiaL</text>
<text class="sb i c" x="175.80" y="239.40" font-size="3.3" style="fill:#ee2222">P = 0.0206</text>
<path class="l" d="M165.20 241.10L186.00 241.10" stroke-width="0.45"/>
<path class="l" d="M165.20 240.30L165.20 241.90" stroke-width="0.45"/>
<path class="l" d="M186.00 240.30L186.00 241.90" stroke-width="0.45"/>
<text class="ab c" x="175.20" y="242.50" font-size="3.0">*</text>
<path class="l" d="M226.90 242.60L226.90 242.10" stroke-width="0.5"/>
<path class="l" d="M223.90 242.10L229.90 242.10" stroke-width="0.5"/>
<rect x="219.90" y="242.60" width="14.00" height="32.00" fill="#000"/>
<path class="l" d="M247.90 245.10L247.90 244.70" stroke-width="0.5"/>
<path class="l" d="M244.90 244.70L250.90 244.70" stroke-width="0.5"/>
<rect x="241.15" y="245.35" width="13.50" height="29.25" fill="#f92a26" stroke="#000" stroke-width="0.5"/>
<path class="l" d="M216.20 238.00L216.20 274.90" stroke-width="0.6"/>
<path class="l" d="M215.90 274.60L259.00 274.60" stroke-width="0.6"/>
<path class="l" d="M214.90 238.30L216.20 238.30" stroke-width="0.45"/>
<text class="ab c" x="214.40" y="238.30" font-size="2.6" style="text-anchor:end">50</text>
<path class="l" d="M214.90 245.56L216.20 245.56" stroke-width="0.45"/>
<text class="ab c" x="214.40" y="245.56" font-size="2.6" style="text-anchor:end">40</text>
<path class="l" d="M214.90 252.82L216.20 252.82" stroke-width="0.45"/>
<text class="ab c" x="214.40" y="252.82" font-size="2.6" style="text-anchor:end">30</text>
<path class="l" d="M214.90 260.08L216.20 260.08" stroke-width="0.45"/>
<text class="ab c" x="214.40" y="260.08" font-size="2.6" style="text-anchor:end">20</text>
<path class="l" d="M214.90 267.34L216.20 267.34" stroke-width="0.45"/>
<text class="ab c" x="214.40" y="267.34" font-size="2.6" style="text-anchor:end">10</text>
<path class="l" d="M214.90 274.60L216.20 274.60" stroke-width="0.45"/>
<text class="ab c" x="214.40" y="274.60" font-size="2.6" style="text-anchor:end">0</text>
<path class="l" d="M226.90 274.60L226.90 275.60" stroke-width="0.45"/>
<path class="l" d="M247.90 274.60L247.90 275.60" stroke-width="0.45"/>
<text class="ab c" x="226.50" y="277.60" font-size="2.6" textLength="9.4" lengthAdjust="spacingAndGlyphs">Low_IMF</text>
<text class="ab c" x="247.90" y="277.60" font-size="2.6" textLength="10" lengthAdjust="spacingAndGlyphs">High_IMF</text>
<text class="ab c" x="208.60" y="256.00" font-size="2.6" style="fill:#2a2a2a" textLength="28" lengthAdjust="spacingAndGlyphs" transform="rotate(-90 208.6 256)">Loin eye area (cm<tspan font-size='2' dy='-0.8'>2</tspan><tspan dy='0.8'>)</tspan></text>
<text class="sb c" x="269.00" y="77.80" font-size="9">C</text>
<rect x="483.60" y="81.60" width="10.00" height="5.00" fill="#000"/>
<rect x="483.90" y="90.90" width="9.40" height="4.40" fill="#f92a26" stroke="#000" stroke-width="0.6"/>
<text class="sb c" x="498.00" y="84.40" font-size="7" style="text-anchor:start" textLength="30.6" lengthAdjust="spacingAndGlyphs">Low_IMF</text>
<text class="sb c" x="498.00" y="93.10" font-size="7" style="text-anchor:start" textLength="33" lengthAdjust="spacingAndGlyphs">High_IMF</text>
<path class="l" d="M308.75 110.70L308.75 109.80" stroke-width="0.9"/>
<path class="l" d="M305.55 109.80L311.95 109.80" stroke-width="0.9"/>
<rect x="302.70" y="110.70" width="12.10" height="57.30" fill="#000"/>
<path class="l" d="M323.00 105.00L323.00 103.60" stroke-width="0.9"/>
<path class="l" d="M319.80 103.60L326.20 103.60" stroke-width="0.9"/>
<rect x="317.85" y="105.35" width="10.30" height="62.65" fill="#f92a26" stroke="#000" stroke-width="0.7"/>
<path class="l" d="M337.75 119.40L337.75 118.60" stroke-width="0.9"/>
<path class="l" d="M334.55 118.60L340.95 118.60" stroke-width="0.9"/>
<rect x="331.70" y="119.40" width="12.10" height="48.60" fill="#000"/>
<path class="l" d="M352.00 113.40L352.00 112.60" stroke-width="0.9"/>
<path class="l" d="M348.80 112.60L355.20 112.60" stroke-width="0.9"/>
<rect x="346.85" y="113.75" width="10.30" height="54.25" fill="#f92a26" stroke="#000" stroke-width="0.7"/>
<path class="l" d="M366.75 134.00L366.75 133.60" stroke-width="0.9"/>
<path class="l" d="M363.55 133.60L369.95 133.60" stroke-width="0.9"/>
<rect x="360.70" y="134.00" width="12.10" height="34.00" fill="#000"/>
<path class="l" d="M381.00 129.40L381.00 127.60" stroke-width="0.9"/>
<path class="l" d="M377.80 127.60L384.20 127.60" stroke-width="0.9"/>
<rect x="375.85" y="129.75" width="10.30" height="38.25" fill="#f92a26" stroke="#000" stroke-width="0.7"/>
<path class="l" d="M395.75 117.00L395.75 115.00" stroke-width="0.9"/>
<path class="l" d="M392.55 115.00L398.95 115.00" stroke-width="0.9"/>
<rect x="389.70" y="117.00" width="12.10" height="51.00" fill="#000"/>
<path class="l" d="M410.00 112.00L410.00 110.40" stroke-width="0.9"/>
<path class="l" d="M406.80 110.40L413.20 110.40" stroke-width="0.9"/>
<rect x="404.85" y="112.35" width="10.30" height="55.65" fill="#f92a26" stroke="#000" stroke-width="0.7"/>
<path class="l" d="M424.75 107.00L424.75 105.40" stroke-width="0.9"/>
<path class="l" d="M421.55 105.40L427.95 105.40" stroke-width="0.9"/>
<rect x="418.70" y="107.00" width="12.10" height="61.00" fill="#000"/>
<path class="l" d="M439.00 100.60L439.00 99.40" stroke-width="0.9"/>
<path class="l" d="M435.80 99.40L442.20 99.40" stroke-width="0.9"/>
<rect x="433.85" y="100.95" width="10.30" height="67.05" fill="#f92a26" stroke="#000" stroke-width="0.7"/>
<path class="l" d="M453.75 142.00L453.75 139.00" stroke-width="0.9"/>
<path class="l" d="M450.55 139.00L456.95 139.00" stroke-width="0.9"/>
<rect x="447.70" y="142.00" width="12.10" height="26.00" fill="#000"/>
<path class="l" d="M468.00 132.40L468.00 130.40" stroke-width="0.9"/>
<path class="l" d="M464.80 130.40L471.20 130.40" stroke-width="0.9"/>
<rect x="462.85" y="132.75" width="10.30" height="35.25" fill="#f92a26" stroke="#000" stroke-width="0.7"/>
<path class="l" d="M482.75 124.00L482.75 122.80" stroke-width="0.9"/>
<path class="l" d="M479.55 122.80L485.95 122.80" stroke-width="0.9"/>
<rect x="476.70" y="124.00" width="12.10" height="44.00" fill="#000"/>
<path class="l" d="M497.00 120.00L497.00 119.00" stroke-width="0.9"/>
<path class="l" d="M493.80 119.00L500.20 119.00" stroke-width="0.9"/>
<rect x="491.85" y="120.35" width="10.30" height="47.65" fill="#f92a26" stroke="#000" stroke-width="0.7"/>
<path class="l" d="M511.75 121.60L511.75 120.00" stroke-width="0.9"/>
<path class="l" d="M508.55 120.00L514.95 120.00" stroke-width="0.9"/>
<rect x="505.70" y="121.60" width="12.10" height="46.40" fill="#000"/>
<path class="l" d="M526.00 116.60L526.00 115.40" stroke-width="0.9"/>
<path class="l" d="M522.80 115.40L529.20 115.40" stroke-width="0.9"/>
<rect x="520.85" y="116.95" width="10.30" height="51.05" fill="#f92a26" stroke="#000" stroke-width="0.7"/>
<path class="l" d="M301.60 86.95L301.60 168.50" stroke-width="1.0"/>
<path class="l" d="M301.10 168.00L534.00 168.00" stroke-width="1.0"/>
<path class="l" d="M299.20 168.00L301.60 168.00" stroke-width="0.9"/>
<text class="sb c" x="298.40" y="167.60" font-size="6.4" style="text-anchor:end">0.0</text>
<path class="l" d="M299.20 141.15L301.60 141.15" stroke-width="0.9"/>
<text class="sb c" x="298.40" y="140.75" font-size="6.4" style="text-anchor:end">0.5</text>
<path class="l" d="M299.20 114.30L301.60 114.30" stroke-width="0.9"/>
<text class="sb c" x="298.40" y="113.90" font-size="6.4" style="text-anchor:end">1.0</text>
<path class="l" d="M299.20 87.45L301.60 87.45" stroke-width="0.9"/>
<text class="sb c" x="298.40" y="87.05" font-size="6.4" style="text-anchor:end">1.5</text>
<path class="l" d="M315.90 168.00L315.90 170.00" stroke-width="0.9"/>
<text class="sb c" x="315.60" y="173.60" font-size="6.2">Thr</text>
<path class="l" d="M344.90 168.00L344.90 170.00" stroke-width="0.9"/>
<text class="sb c" x="344.60" y="173.60" font-size="6.2">Ser</text>
<path class="l" d="M373.90 168.00L373.90 170.00" stroke-width="0.9"/>
<text class="sb c" x="373.60" y="173.60" font-size="6.2">Pro</text>
<path class="l" d="M402.90 168.00L402.90 170.00" stroke-width="0.9"/>
<text class="sb c" x="402.60" y="173.60" font-size="6.2">Gly</text>
<path class="l" d="M431.90 168.00L431.90 170.00" stroke-width="0.9"/>
<text class="sb c" x="431.60" y="173.60" font-size="6.2">Val</text>
<path class="l" d="M460.90 168.00L460.90 170.00" stroke-width="0.9"/>
<text class="sb c" x="460.60" y="173.60" font-size="6.2">Met</text>
<path class="l" d="M489.90 168.00L489.90 170.00" stroke-width="0.9"/>
<text class="sb c" x="489.60" y="173.60" font-size="6.2">Tyr</text>
<path class="l" d="M518.90 168.00L518.90 170.00" stroke-width="0.9"/>
<text class="sb c" x="518.60" y="173.60" font-size="6.2">Phe</text>
<path class="l" d="M309.00 101.00L323.00 101.00" stroke-width="1.0" style="stroke:#222"/>
<text class="a" x="316.40" y="102.52" font-size="9.5" style="fill:#333" letter-spacing="0.8">**</text>
<path class="l" d="M337.60 109.50L351.00 109.50" stroke-width="1.0" style="stroke:#222"/>
<text class="a" x="344.70" y="111.52" font-size="9.5" style="fill:#333" letter-spacing="0.8">**</text>
<path class="l" d="M367.00 124.40L380.60 124.40" stroke-width="1.0" style="stroke:#222"/>
<text class="a" x="374.20" y="126.31" font-size="9.5" style="fill:#333" letter-spacing="0.8">*</text>
<path class="l" d="M396.00 108.00L409.40 108.00" stroke-width="1.0" style="stroke:#222"/>
<text class="a" x="403.10" y="109.52" font-size="9.5" style="fill:#333" letter-spacing="0.8">*</text>
<path class="l" d="M425.00 96.40L438.60 96.40" stroke-width="1.0" style="stroke:#222"/>
<text class="a" x="432.20" y="97.91" font-size="9.5" style="fill:#333" letter-spacing="0.8">**</text>
<path class="l" d="M454.00 128.00L467.40 128.00" stroke-width="1.0" style="stroke:#222"/>
<text class="a" x="461.10" y="129.52" font-size="9.5" style="fill:#333" letter-spacing="0.8">*</text>
<path class="l" d="M484.00 115.40L497.40 115.40" stroke-width="1.0" style="stroke:#222"/>
<text class="a" x="491.10" y="117.31" font-size="9.5" style="fill:#333" letter-spacing="0.8">*</text>
<path class="l" d="M512.00 113.00L525.40 113.00" stroke-width="1.0" style="stroke:#222"/>
<text class="a" x="519.10" y="114.52" font-size="9.5" style="fill:#333" letter-spacing="0.8">*</text>
<text class="sb c" x="283.80" y="127.00" font-size="6.8" textLength="70" lengthAdjust="spacingAndGlyphs" transform="rotate(-90 283.8 127)">Amino acid content (%)</text>
<path class="l" d="M304.65 235.00L304.65 233.60" stroke-width="0.9"/>
<path class="l" d="M301.45 233.60L307.85 233.60" stroke-width="0.9"/>
<rect x="298.80" y="235.00" width="11.70" height="37.00" fill="#000"/>
<path class="l" d="M318.75 231.40L318.75 230.80" stroke-width="0.9"/>
<path class="l" d="M315.55 230.80L321.95 230.80" stroke-width="0.9"/>
<rect x="313.35" y="231.75" width="10.80" height="40.25" fill="#f92a26" stroke="#000" stroke-width="0.7"/>
<path class="l" d="M334.21 211.00L334.21 209.30" stroke-width="0.9"/>
<path class="l" d="M331.01 209.30L337.41 209.30" stroke-width="0.9"/>
<rect x="328.36" y="211.00" width="11.70" height="61.00" fill="#000"/>
<path class="l" d="M348.31 202.00L348.31 200.80" stroke-width="0.9"/>
<path class="l" d="M345.11 200.80L351.51 200.80" stroke-width="0.9"/>
<rect x="342.91" y="202.35" width="10.80" height="69.65" fill="#f92a26" stroke="#000" stroke-width="0.7"/>
<path class="l" d="M363.77 250.60L363.77 249.20" stroke-width="0.9"/>
<path class="l" d="M360.57 249.20L366.97 249.20" stroke-width="0.9"/>
<rect x="357.92" y="250.60" width="11.70" height="21.40" fill="#000"/>
<path class="l" d="M377.87 248.00L377.87 247.40" stroke-width="0.9"/>
<path class="l" d="M374.67 247.40L381.07 247.40" stroke-width="0.9"/>
<rect x="372.47" y="248.35" width="10.80" height="23.65" fill="#f92a26" stroke="#000" stroke-width="0.7"/>
<path class="l" d="M393.33 254.00L393.33 253.40" stroke-width="0.9"/>
<path class="l" d="M390.13 253.40L396.53 253.40" stroke-width="0.9"/>
<rect x="387.48" y="254.00" width="11.70" height="18.00" fill="#000"/>
<path class="l" d="M407.43 252.40L407.43 251.80" stroke-width="0.9"/>
<path class="l" d="M404.23 251.80L410.63 251.80" stroke-width="0.9"/>
<rect x="402.03" y="252.75" width="10.80" height="19.25" fill="#f92a26" stroke="#000" stroke-width="0.7"/>
<path class="l" d="M422.89 241.00L422.89 240.40" stroke-width="0.9"/>
<path class="l" d="M419.69 240.40L426.09 240.40" stroke-width="0.9"/>
<rect x="417.04" y="241.00" width="11.70" height="31.00" fill="#000"/>
<path class="l" d="M436.99 238.00L436.99 237.40" stroke-width="0.9"/>
<path class="l" d="M433.79 237.40L440.19 237.40" stroke-width="0.9"/>
<rect x="431.59" y="238.35" width="10.80" height="33.65" fill="#f92a26" stroke="#000" stroke-width="0.7"/>
<path class="l" d="M452.45 251.60L452.45 251.00" stroke-width="0.9"/>
<path class="l" d="M449.25 251.00L455.65 251.00" stroke-width="0.9"/>
<rect x="446.60" y="251.60" width="11.70" height="20.40" fill="#000"/>
<path class="l" d="M466.55 250.00L466.55 249.40" stroke-width="0.9"/>
<path class="l" d="M463.35 249.40L469.75 249.40" stroke-width="0.9"/>
<rect x="461.15" y="250.35" width="10.80" height="21.65" fill="#f92a26" stroke="#000" stroke-width="0.7"/>
<path class="l" d="M482.01 237.00L482.01 236.40" stroke-width="0.9"/>
<path class="l" d="M478.81 236.40L485.21 236.40" stroke-width="0.9"/>
<rect x="476.16" y="237.00" width="11.70" height="35.00" fill="#000"/>
<path class="l" d="M496.11 234.00L496.11 233.20" stroke-width="0.9"/>
<path class="l" d="M492.91 233.20L499.31 233.20" stroke-width="0.9"/>
<rect x="490.71" y="234.35" width="10.80" height="37.65" fill="#f92a26" stroke="#000" stroke-width="0.7"/>
<path class="l" d="M511.57 247.60L511.57 247.00" stroke-width="0.9"/>
<path class="l" d="M508.37 247.00L514.77 247.00" stroke-width="0.9"/>
<rect x="505.72" y="247.60" width="11.70" height="24.40" fill="#000"/>
<path class="l" d="M525.67 245.60L525.67 245.00" stroke-width="0.9"/>
<path class="l" d="M522.47 245.00L528.87 245.00" stroke-width="0.9"/>
<rect x="520.27" y="245.95" width="10.80" height="26.05" fill="#f92a26" stroke="#000" stroke-width="0.7"/>
<path class="l" d="M296.40 188.50L296.40 272.50" stroke-width="1.0"/>
<path class="l" d="M295.90 272.00L534.00 272.00" stroke-width="1.0"/>
<path class="l" d="M294.00 272.00L296.40 272.00" stroke-width="0.9"/>
<text class="ab c" x="293.20" y="271.60" font-size="6.2" style="text-anchor:end">0</text>
<path class="l" d="M294.00 255.40L296.40 255.40" stroke-width="0.9"/>
<text class="ab c" x="293.20" y="255.00" font-size="6.2" style="text-anchor:end">1</text>
<path class="l" d="M294.00 238.80L296.40 238.80" stroke-width="0.9"/>
<text class="ab c" x="293.20" y="238.40" font-size="6.2" style="text-anchor:end">2</text>
<path class="l" d="M294.00 222.20L296.40 222.20" stroke-width="0.9"/>
<text class="ab c" x="293.20" y="221.80" font-size="6.2" style="text-anchor:end">3</text>
<path class="l" d="M294.00 205.60L296.40 205.60" stroke-width="0.9"/>
<text class="ab c" x="293.20" y="205.20" font-size="6.2" style="text-anchor:end">4</text>
<path class="l" d="M294.00 189.00L296.40 189.00" stroke-width="0.9"/>
<text class="ab c" x="293.20" y="188.60" font-size="6.2" style="text-anchor:end">5</text>
<path class="l" d="M312.10 272.00L312.10 274.00" stroke-width="0.9"/>
<text class="sb c" x="311.80" y="277.60" font-size="6.2">Asn</text>
<path class="l" d="M341.66 272.00L341.66 274.00" stroke-width="0.9"/>
<text class="sb c" x="341.36" y="277.60" font-size="6.2">Glu</text>
<path class="l" d="M371.22 272.00L371.22 274.00" stroke-width="0.9"/>
<text class="sb c" x="370.92" y="277.60" font-size="6.2">Ala</text>
<path class="l" d="M400.78 272.00L400.78 274.00" stroke-width="0.9"/>
<text class="sb c" x="400.48" y="277.60" font-size="6.2">Ile</text>
<path class="l" d="M430.34 272.00L430.34 274.00" stroke-width="0.9"/>
<text class="sb c" x="430.04" y="277.60" font-size="6.2">Leu</text>
<path class="l" d="M459.90 272.00L459.90 274.00" stroke-width="0.9"/>
<text class="sb c" x="459.60" y="277.60" font-size="6.2">His</text>
<path class="l" d="M489.46 272.00L489.46 274.00" stroke-width="0.9"/>
<text class="sb c" x="489.16" y="277.60" font-size="6.2">Lys</text>
<path class="l" d="M519.02 272.00L519.02 274.00" stroke-width="0.9"/>
<text class="sb c" x="518.72" y="277.60" font-size="6.2">Arg</text>
<path class="l" d="M304.00 227.50L317.80 227.50" stroke-width="1.0" style="stroke:#222"/>
<text class="a" x="311.30" y="229.31" font-size="9.5" style="fill:#333" letter-spacing="0.8">*</text>
<path class="l" d="M335.00 198.00L348.40 198.00" stroke-width="1.0" style="stroke:#222"/>
<text class="a" x="342.10" y="199.72" font-size="9.5" style="fill:#333" letter-spacing="0.8">**</text>
<path class="l" d="M394.00 249.00L407.40 249.00" stroke-width="1.0" style="stroke:#222"/>
<text class="a" x="401.10" y="250.72" font-size="9.5" style="fill:#333" letter-spacing="0.8">*</text>
<path class="l" d="M423.00 234.00L436.60 234.00" stroke-width="1.0" style="stroke:#222"/>
<text class="a" x="430.20" y="235.31" font-size="9.5" style="fill:#333" letter-spacing="0.8">*</text>
<path class="l" d="M512.00 242.00L525.60 242.00" stroke-width="1.0" style="stroke:#222"/>
<text class="a" x="519.20" y="243.72" font-size="9.5" style="fill:#333" letter-spacing="0.8">*</text>
<text class="ab c" x="283.40" y="230.00" font-size="7" textLength="78" lengthAdjust="spacingAndGlyphs" transform="rotate(-90 283.4 230)">Amino acid content (%)</text>
</svg>
</body></html>
